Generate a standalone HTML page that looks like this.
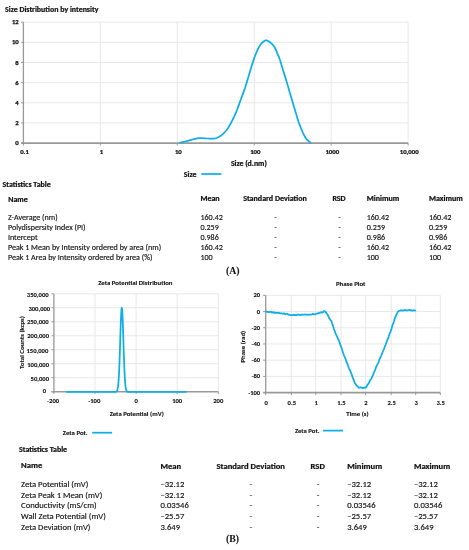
<!DOCTYPE html>
<html><head><meta charset="utf-8"><title>Size and Zeta Potential</title>
<style>
html,body{margin:0;padding:0;background:#fff;width:469px;height:550px;overflow:hidden;}
svg{display:block;filter:blur(0.3px);}
</style></head>
<body>
<svg width="469" height="550" viewBox="0 0 469 550" shape-rendering="auto">
<rect width="469" height="550" fill="#fff"/>
<text x="5.00" y="11.90" font-size="7.9" font-weight="700" text-anchor="start" fill="#111" stroke="#111" stroke-width="0.22" font-family='"Carlito","Liberation Sans",sans-serif'  textLength="93.44" lengthAdjust="spacingAndGlyphs">Size Distribution by intensity</text>
<line x1="23.40" y1="122.94" x2="408.10" y2="122.94" stroke="#e8e8e8" stroke-width="1"/>
<line x1="23.40" y1="102.78" x2="408.10" y2="102.78" stroke="#e8e8e8" stroke-width="1"/>
<line x1="23.40" y1="82.62" x2="408.10" y2="82.62" stroke="#e8e8e8" stroke-width="1"/>
<line x1="23.40" y1="62.46" x2="408.10" y2="62.46" stroke="#e8e8e8" stroke-width="1"/>
<line x1="23.40" y1="42.30" x2="408.10" y2="42.30" stroke="#e8e8e8" stroke-width="1"/>
<line x1="23.40" y1="22.14" x2="408.10" y2="22.14" stroke="#e8e8e8" stroke-width="1"/>
<line x1="100.34" y1="22.14" x2="100.34" y2="143.10" stroke="#e8e8e8" stroke-width="1"/>
<line x1="177.28" y1="22.14" x2="177.28" y2="143.10" stroke="#e8e8e8" stroke-width="1"/>
<line x1="254.22" y1="22.14" x2="254.22" y2="143.10" stroke="#e8e8e8" stroke-width="1"/>
<line x1="331.16" y1="22.14" x2="331.16" y2="143.10" stroke="#e8e8e8" stroke-width="1"/>
<line x1="408.10" y1="22.14" x2="408.10" y2="143.10" stroke="#e8e8e8" stroke-width="1"/>
<line x1="23.40" y1="22.14" x2="23.40" y2="143.60" stroke="#999999" stroke-width="1.3"/>
<line x1="21.00" y1="143.10" x2="408.10" y2="143.10" stroke="#999999" stroke-width="1.6"/>
<line x1="21.00" y1="143.10" x2="23.40" y2="143.10" stroke="#999999" stroke-width="1"/>
<line x1="21.00" y1="122.94" x2="23.40" y2="122.94" stroke="#999999" stroke-width="1"/>
<line x1="21.00" y1="102.78" x2="23.40" y2="102.78" stroke="#999999" stroke-width="1"/>
<line x1="21.00" y1="82.62" x2="23.40" y2="82.62" stroke="#999999" stroke-width="1"/>
<line x1="21.00" y1="62.46" x2="23.40" y2="62.46" stroke="#999999" stroke-width="1"/>
<line x1="21.00" y1="42.30" x2="23.40" y2="42.30" stroke="#999999" stroke-width="1"/>
<line x1="21.00" y1="22.14" x2="23.40" y2="22.14" stroke="#999999" stroke-width="1"/>
<line x1="23.40" y1="143.10" x2="23.40" y2="145.60" stroke="#999999" stroke-width="1"/>
<line x1="100.34" y1="143.10" x2="100.34" y2="145.60" stroke="#999999" stroke-width="1"/>
<line x1="177.28" y1="143.10" x2="177.28" y2="145.60" stroke="#999999" stroke-width="1"/>
<line x1="254.22" y1="143.10" x2="254.22" y2="145.60" stroke="#999999" stroke-width="1"/>
<line x1="331.16" y1="143.10" x2="331.16" y2="145.60" stroke="#999999" stroke-width="1"/>
<line x1="408.10" y1="143.10" x2="408.10" y2="145.60" stroke="#999999" stroke-width="1"/>
<text x="18.70" y="145.20" font-size="6.7" font-weight="700" text-anchor="end" fill="#111" stroke="#111" stroke-width="0.25" font-family='"Carlito","Liberation Sans",sans-serif'  textLength="3.39" lengthAdjust="spacingAndGlyphs">0</text>
<text x="18.70" y="125.04" font-size="6.7" font-weight="700" text-anchor="end" fill="#111" stroke="#111" stroke-width="0.25" font-family='"Carlito","Liberation Sans",sans-serif'  textLength="3.39" lengthAdjust="spacingAndGlyphs">2</text>
<text x="18.70" y="104.88" font-size="6.7" font-weight="700" text-anchor="end" fill="#111" stroke="#111" stroke-width="0.25" font-family='"Carlito","Liberation Sans",sans-serif'  textLength="3.39" lengthAdjust="spacingAndGlyphs">4</text>
<text x="18.70" y="84.72" font-size="6.7" font-weight="700" text-anchor="end" fill="#111" stroke="#111" stroke-width="0.25" font-family='"Carlito","Liberation Sans",sans-serif'  textLength="3.39" lengthAdjust="spacingAndGlyphs">6</text>
<text x="18.70" y="64.56" font-size="6.7" font-weight="700" text-anchor="end" fill="#111" stroke="#111" stroke-width="0.25" font-family='"Carlito","Liberation Sans",sans-serif'  textLength="3.39" lengthAdjust="spacingAndGlyphs">8</text>
<text x="18.70" y="44.40" font-size="6.7" font-weight="700" text-anchor="end" fill="#111" stroke="#111" stroke-width="0.25" font-family='"Carlito","Liberation Sans",sans-serif'  textLength="6.78" lengthAdjust="spacingAndGlyphs">10</text>
<text x="18.70" y="24.24" font-size="6.7" font-weight="700" text-anchor="end" fill="#111" stroke="#111" stroke-width="0.25" font-family='"Carlito","Liberation Sans",sans-serif'  textLength="6.78" lengthAdjust="spacingAndGlyphs">12</text>
<text x="24.50" y="154.40" font-size="6.75" font-weight="700" text-anchor="middle" fill="#111" stroke="#111" stroke-width="0.22" font-family='"Carlito","Liberation Sans",sans-serif'  textLength="8.66" lengthAdjust="spacingAndGlyphs">0.1</text>
<text x="101.44" y="154.40" font-size="6.75" font-weight="700" text-anchor="middle" fill="#111" stroke="#111" stroke-width="0.22" font-family='"Carlito","Liberation Sans",sans-serif'  textLength="3.42" lengthAdjust="spacingAndGlyphs">1</text>
<text x="178.38" y="154.40" font-size="6.75" font-weight="700" text-anchor="middle" fill="#111" stroke="#111" stroke-width="0.22" font-family='"Carlito","Liberation Sans",sans-serif'  textLength="6.84" lengthAdjust="spacingAndGlyphs">10</text>
<text x="255.32" y="154.40" font-size="6.75" font-weight="700" text-anchor="middle" fill="#111" stroke="#111" stroke-width="0.22" font-family='"Carlito","Liberation Sans",sans-serif'  textLength="10.27" lengthAdjust="spacingAndGlyphs">100</text>
<text x="332.26" y="154.40" font-size="6.75" font-weight="700" text-anchor="middle" fill="#111" stroke="#111" stroke-width="0.22" font-family='"Carlito","Liberation Sans",sans-serif'  textLength="13.69" lengthAdjust="spacingAndGlyphs">1000</text>
<text x="409.20" y="154.40" font-size="6.75" font-weight="700" text-anchor="middle" fill="#111" stroke="#111" stroke-width="0.22" font-family='"Carlito","Liberation Sans",sans-serif'  textLength="18.86" lengthAdjust="spacingAndGlyphs">10,000</text>
<text x="248.90" y="165.70" font-size="7.8" font-weight="700" text-anchor="middle" fill="#111" stroke="#111" stroke-width="0.22" font-family='"Carlito","Liberation Sans",sans-serif'  textLength="35.91" lengthAdjust="spacingAndGlyphs">Size (d.nm)</text>
<text x="183.80" y="176.80" font-size="7.9" font-weight="700" text-anchor="start" fill="#111" stroke="#111" stroke-width="0.22" font-family='"Carlito","Liberation Sans",sans-serif'  textLength="12.64" lengthAdjust="spacingAndGlyphs">Size</text>
<line x1="201.40" y1="174.00" x2="221.40" y2="174.00" stroke="#0eaee8" stroke-width="1.75"/>
<path d="M180.10,142.70 L180.97,142.50 L182.22,142.22 L183.68,141.88 L185.20,141.50 L186.80,141.06 L188.54,140.56 L190.34,140.06 L192.10,139.60 L193.81,139.18 L195.51,138.77 L197.20,138.43 L198.90,138.20 L200.60,138.14 L202.30,138.19 L204.00,138.31 L205.70,138.40 L207.44,138.50 L209.20,138.64 L210.91,138.73 L212.50,138.70 L213.91,138.56 L215.21,138.33 L216.44,137.99 L217.70,137.50 L218.98,136.86 L220.26,136.09 L221.53,135.18 L222.80,134.10 L224.08,132.88 L225.35,131.51 L226.63,129.97 L227.90,128.20 L229.20,126.13 L230.52,123.79 L231.80,121.36 L233.00,119.00 L234.08,116.78 L235.07,114.61 L236.03,112.39 L237.00,110.00 L238.00,107.39 L239.00,104.62 L240.00,101.80 L241.00,99.00 L242.00,96.30 L243.00,93.62 L244.00,90.89 L245.00,88.00 L246.02,84.82 L247.06,81.44 L248.07,78.09 L249.00,75.00 L249.82,72.27 L250.56,69.75 L251.27,67.36 L252.00,65.00 L252.75,62.63 L253.50,60.31 L254.25,58.09 L255.00,56.00 L255.75,54.06 L256.50,52.25 L257.25,50.56 L258.00,49.00 L258.73,47.57 L259.44,46.27 L260.18,45.09 L261.00,44.00 L261.95,42.95 L263.00,41.96 L264.05,41.15 L265.00,40.60 L265.80,40.37 L266.50,40.40 L267.20,40.63 L268.00,41.00 L268.95,41.54 L270.00,42.27 L271.05,43.12 L272.00,44.00 L272.82,44.86 L273.56,45.75 L274.27,46.77 L275.00,48.00 L275.77,49.59 L276.56,51.44 L277.32,53.32 L278.00,55.00 L278.56,56.33 L279.04,57.46 L279.50,58.61 L280.00,60.00 L280.55,61.73 L281.12,63.67 L281.71,65.70 L282.30,67.70 L282.90,69.65 L283.50,71.62 L284.10,73.58 L284.70,75.50 L285.28,77.36 L285.86,79.19 L286.43,81.02 L287.00,82.90 L287.57,84.86 L288.15,86.88 L288.73,88.91 L289.30,90.90 L289.88,92.84 L290.45,94.76 L291.03,96.68 L291.60,98.60 L292.18,100.55 L292.75,102.50 L293.32,104.45 L293.90,106.40 L294.47,108.33 L295.05,110.26 L295.62,112.18 L296.20,114.10 L296.77,116.06 L297.34,118.04 L297.92,119.98 L298.50,121.80 L299.10,123.47 L299.70,125.04 L300.30,126.54 L300.90,128.00 L301.46,129.41 L302.01,130.75 L302.57,132.07 L303.20,133.40 L303.90,134.79 L304.64,136.19 L305.44,137.56 L306.30,138.80 L307.35,139.97 L308.54,141.09 L309.64,142.03 L310.40,142.70" fill="none" stroke="#0eaee8" stroke-width="1.75" stroke-linejoin="round" stroke-linecap="round"/>
<text x="2.60" y="186.50" font-size="7.9" font-weight="700" text-anchor="start" fill="#111" stroke="#111" stroke-width="0.22" font-family='"Carlito","Liberation Sans",sans-serif'  textLength="48.09" lengthAdjust="spacingAndGlyphs">Statistics Table</text>
<text x="8.20" y="201.50" font-size="7.9" font-weight="700" text-anchor="start" fill="#111" stroke="#111" stroke-width="0.22" font-family='"Carlito","Liberation Sans",sans-serif'  textLength="19.48" lengthAdjust="spacingAndGlyphs">Name</text>
<text x="200.40" y="201.40" font-size="8" font-weight="700" text-anchor="start" fill="#111" stroke="#111" stroke-width="0.22" font-family='"Carlito","Liberation Sans",sans-serif'  textLength="19.27" lengthAdjust="spacingAndGlyphs">Mean</text>
<text x="275.00" y="201.40" font-size="8" font-weight="700" text-anchor="middle" fill="#111" stroke="#111" stroke-width="0.22" font-family='"Carlito","Liberation Sans",sans-serif'  textLength="63.75" lengthAdjust="spacingAndGlyphs">Standard Deviation</text>
<text x="339.00" y="201.40" font-size="8" font-weight="700" text-anchor="middle" fill="#111" stroke="#111" stroke-width="0.22" font-family='"Carlito","Liberation Sans",sans-serif'  textLength="13.25" lengthAdjust="spacingAndGlyphs">RSD</text>
<text x="366.70" y="201.40" font-size="8" font-weight="700" text-anchor="start" fill="#111" stroke="#111" stroke-width="0.22" font-family='"Carlito","Liberation Sans",sans-serif'  textLength="32.53" lengthAdjust="spacingAndGlyphs">Minimum</text>
<text x="428.90" y="201.40" font-size="8" font-weight="700" text-anchor="start" fill="#111" stroke="#111" stroke-width="0.22" font-family='"Carlito","Liberation Sans",sans-serif'  textLength="33.83" lengthAdjust="spacingAndGlyphs">Maximum</text>
<text x="7.90" y="219.50" font-size="8.05" font-weight="400" text-anchor="start" fill="#111" stroke="#111" stroke-width="0.15" font-family='"Carlito","Liberation Sans",sans-serif'  textLength="49.70" lengthAdjust="spacingAndGlyphs">Z-Average (nm)</text>
<text x="200.40" y="219.50" font-size="8.05" font-weight="400" text-anchor="start" fill="#111" stroke="#111" stroke-width="0.15" font-family='"Carlito","Liberation Sans",sans-serif'  textLength="22.44" lengthAdjust="spacingAndGlyphs">160.42</text>
<text x="275.50" y="219.50" font-size="8.05" font-weight="400" text-anchor="middle" fill="#111" stroke="#111" stroke-width="0.15" font-family='"Carlito","Liberation Sans",sans-serif'  textLength="2.47" lengthAdjust="spacingAndGlyphs">-</text>
<text x="339.50" y="219.50" font-size="8.05" font-weight="400" text-anchor="middle" fill="#111" stroke="#111" stroke-width="0.15" font-family='"Carlito","Liberation Sans",sans-serif'  textLength="2.47" lengthAdjust="spacingAndGlyphs">-</text>
<text x="366.70" y="219.50" font-size="8.05" font-weight="400" text-anchor="start" fill="#111" stroke="#111" stroke-width="0.15" font-family='"Carlito","Liberation Sans",sans-serif'  textLength="22.44" lengthAdjust="spacingAndGlyphs">160.42</text>
<text x="428.90" y="219.50" font-size="8.05" font-weight="400" text-anchor="start" fill="#111" stroke="#111" stroke-width="0.15" font-family='"Carlito","Liberation Sans",sans-serif'  textLength="22.44" lengthAdjust="spacingAndGlyphs">160.42</text>
<text x="7.90" y="229.55" font-size="8.05" font-weight="400" text-anchor="start" fill="#111" stroke="#111" stroke-width="0.15" font-family='"Carlito","Liberation Sans",sans-serif'  textLength="77.64" lengthAdjust="spacingAndGlyphs">Polydispersity Index (PI)</text>
<text x="200.40" y="229.55" font-size="8.05" font-weight="400" text-anchor="start" fill="#111" stroke="#111" stroke-width="0.15" font-family='"Carlito","Liberation Sans",sans-serif'  textLength="18.36" lengthAdjust="spacingAndGlyphs">0.259</text>
<text x="275.50" y="229.55" font-size="8.05" font-weight="400" text-anchor="middle" fill="#111" stroke="#111" stroke-width="0.15" font-family='"Carlito","Liberation Sans",sans-serif'  textLength="2.47" lengthAdjust="spacingAndGlyphs">-</text>
<text x="339.50" y="229.55" font-size="8.05" font-weight="400" text-anchor="middle" fill="#111" stroke="#111" stroke-width="0.15" font-family='"Carlito","Liberation Sans",sans-serif'  textLength="2.47" lengthAdjust="spacingAndGlyphs">-</text>
<text x="366.70" y="229.55" font-size="8.05" font-weight="400" text-anchor="start" fill="#111" stroke="#111" stroke-width="0.15" font-family='"Carlito","Liberation Sans",sans-serif'  textLength="18.36" lengthAdjust="spacingAndGlyphs">0.259</text>
<text x="428.90" y="229.55" font-size="8.05" font-weight="400" text-anchor="start" fill="#111" stroke="#111" stroke-width="0.15" font-family='"Carlito","Liberation Sans",sans-serif'  textLength="18.36" lengthAdjust="spacingAndGlyphs">0.259</text>
<text x="7.90" y="239.60" font-size="8.05" font-weight="400" text-anchor="start" fill="#111" stroke="#111" stroke-width="0.15" font-family='"Carlito","Liberation Sans",sans-serif'  textLength="29.78" lengthAdjust="spacingAndGlyphs">Intercept</text>
<text x="200.40" y="239.60" font-size="8.05" font-weight="400" text-anchor="start" fill="#111" stroke="#111" stroke-width="0.15" font-family='"Carlito","Liberation Sans",sans-serif'  textLength="18.36" lengthAdjust="spacingAndGlyphs">0.986</text>
<text x="275.50" y="239.60" font-size="8.05" font-weight="400" text-anchor="middle" fill="#111" stroke="#111" stroke-width="0.15" font-family='"Carlito","Liberation Sans",sans-serif'  textLength="2.47" lengthAdjust="spacingAndGlyphs">-</text>
<text x="339.50" y="239.60" font-size="8.05" font-weight="400" text-anchor="middle" fill="#111" stroke="#111" stroke-width="0.15" font-family='"Carlito","Liberation Sans",sans-serif'  textLength="2.47" lengthAdjust="spacingAndGlyphs">-</text>
<text x="366.70" y="239.60" font-size="8.05" font-weight="400" text-anchor="start" fill="#111" stroke="#111" stroke-width="0.15" font-family='"Carlito","Liberation Sans",sans-serif'  textLength="18.36" lengthAdjust="spacingAndGlyphs">0.986</text>
<text x="428.90" y="239.60" font-size="8.05" font-weight="400" text-anchor="start" fill="#111" stroke="#111" stroke-width="0.15" font-family='"Carlito","Liberation Sans",sans-serif'  textLength="18.36" lengthAdjust="spacingAndGlyphs">0.986</text>
<text x="7.90" y="249.65" font-size="8.05" font-weight="400" text-anchor="start" fill="#111" stroke="#111" stroke-width="0.15" font-family='"Carlito","Liberation Sans",sans-serif'  textLength="153.19" lengthAdjust="spacingAndGlyphs">Peak 1 Mean by Intensity ordered by area (nm)</text>
<text x="200.40" y="249.65" font-size="8.05" font-weight="400" text-anchor="start" fill="#111" stroke="#111" stroke-width="0.15" font-family='"Carlito","Liberation Sans",sans-serif'  textLength="22.44" lengthAdjust="spacingAndGlyphs">160.42</text>
<text x="275.50" y="249.65" font-size="8.05" font-weight="400" text-anchor="middle" fill="#111" stroke="#111" stroke-width="0.15" font-family='"Carlito","Liberation Sans",sans-serif'  textLength="2.47" lengthAdjust="spacingAndGlyphs">-</text>
<text x="339.50" y="249.65" font-size="8.05" font-weight="400" text-anchor="middle" fill="#111" stroke="#111" stroke-width="0.15" font-family='"Carlito","Liberation Sans",sans-serif'  textLength="2.47" lengthAdjust="spacingAndGlyphs">-</text>
<text x="366.70" y="249.65" font-size="8.05" font-weight="400" text-anchor="start" fill="#111" stroke="#111" stroke-width="0.15" font-family='"Carlito","Liberation Sans",sans-serif'  textLength="22.44" lengthAdjust="spacingAndGlyphs">160.42</text>
<text x="428.90" y="249.65" font-size="8.05" font-weight="400" text-anchor="start" fill="#111" stroke="#111" stroke-width="0.15" font-family='"Carlito","Liberation Sans",sans-serif'  textLength="22.44" lengthAdjust="spacingAndGlyphs">160.42</text>
<text x="7.90" y="259.70" font-size="8.05" font-weight="400" text-anchor="start" fill="#111" stroke="#111" stroke-width="0.15" font-family='"Carlito","Liberation Sans",sans-serif'  textLength="144.53" lengthAdjust="spacingAndGlyphs">Peak 1 Area by Intensity ordered by area (%)</text>
<text x="200.40" y="259.70" font-size="8.05" font-weight="400" text-anchor="start" fill="#111" stroke="#111" stroke-width="0.15" font-family='"Carlito","Liberation Sans",sans-serif'  textLength="12.25" lengthAdjust="spacingAndGlyphs">100</text>
<text x="275.50" y="259.70" font-size="8.05" font-weight="400" text-anchor="middle" fill="#111" stroke="#111" stroke-width="0.15" font-family='"Carlito","Liberation Sans",sans-serif'  textLength="2.47" lengthAdjust="spacingAndGlyphs">-</text>
<text x="339.50" y="259.70" font-size="8.05" font-weight="400" text-anchor="middle" fill="#111" stroke="#111" stroke-width="0.15" font-family='"Carlito","Liberation Sans",sans-serif'  textLength="2.47" lengthAdjust="spacingAndGlyphs">-</text>
<text x="366.70" y="259.70" font-size="8.05" font-weight="400" text-anchor="start" fill="#111" stroke="#111" stroke-width="0.15" font-family='"Carlito","Liberation Sans",sans-serif'  textLength="12.25" lengthAdjust="spacingAndGlyphs">100</text>
<text x="428.90" y="259.70" font-size="8.05" font-weight="400" text-anchor="start" fill="#111" stroke="#111" stroke-width="0.15" font-family='"Carlito","Liberation Sans",sans-serif'  textLength="12.25" lengthAdjust="spacingAndGlyphs">100</text>
<text x="232.70" y="274.20" font-size="9.8" font-weight="700" text-anchor="middle" fill="#111" stroke="#111" stroke-width="0.05" font-family='"Liberation Serif","Times New Roman",serif'  textLength="13.61" lengthAdjust="spacingAndGlyphs">(A)</text>
<text x="135.30" y="284.80" font-size="6.8" font-weight="700" text-anchor="middle" fill="#111" stroke="#111" stroke-width="0.1" font-family='"Carlito","Liberation Sans",sans-serif'  textLength="74.30" lengthAdjust="spacingAndGlyphs">Zeta Potential Distribution</text>
<line x1="53.90" y1="377.71" x2="218.30" y2="377.71" stroke="#e8e8e8" stroke-width="1"/>
<line x1="53.90" y1="363.73" x2="218.30" y2="363.73" stroke="#e8e8e8" stroke-width="1"/>
<line x1="53.90" y1="349.74" x2="218.30" y2="349.74" stroke="#e8e8e8" stroke-width="1"/>
<line x1="53.90" y1="335.76" x2="218.30" y2="335.76" stroke="#e8e8e8" stroke-width="1"/>
<line x1="53.90" y1="321.77" x2="218.30" y2="321.77" stroke="#e8e8e8" stroke-width="1"/>
<line x1="53.90" y1="307.79" x2="218.30" y2="307.79" stroke="#e8e8e8" stroke-width="1"/>
<line x1="53.90" y1="293.80" x2="218.30" y2="293.80" stroke="#e8e8e8" stroke-width="1"/>
<line x1="95.00" y1="293.80" x2="95.00" y2="391.70" stroke="#e8e8e8" stroke-width="1"/>
<line x1="136.10" y1="293.80" x2="136.10" y2="391.70" stroke="#e8e8e8" stroke-width="1"/>
<line x1="177.20" y1="293.80" x2="177.20" y2="391.70" stroke="#e8e8e8" stroke-width="1"/>
<line x1="218.30" y1="293.80" x2="218.30" y2="391.70" stroke="#e8e8e8" stroke-width="1"/>
<line x1="53.90" y1="293.80" x2="53.90" y2="392.20" stroke="#999999" stroke-width="1.3"/>
<line x1="51.50" y1="391.70" x2="218.30" y2="391.70" stroke="#999999" stroke-width="1.6"/>
<line x1="51.50" y1="391.70" x2="53.90" y2="391.70" stroke="#999999" stroke-width="1"/>
<text x="46.00" y="393.20" font-size="6.6" font-weight="700" text-anchor="end" fill="#111" stroke="#111" stroke-width="0.1" font-family='"Carlito","Liberation Sans",sans-serif'  textLength="3.34" lengthAdjust="spacingAndGlyphs">0</text>
<line x1="51.50" y1="377.71" x2="53.90" y2="377.71" stroke="#999999" stroke-width="1"/>
<text x="49.00" y="381.01" font-size="6.6" font-weight="700" text-anchor="end" fill="#111" stroke="#111" stroke-width="0.1" font-family='"Carlito","Liberation Sans",sans-serif'  textLength="18.42" lengthAdjust="spacingAndGlyphs">50,000</text>
<line x1="51.50" y1="363.73" x2="53.90" y2="363.73" stroke="#999999" stroke-width="1"/>
<text x="49.00" y="366.63" font-size="6.6" font-weight="700" text-anchor="end" fill="#111" stroke="#111" stroke-width="0.1" font-family='"Carlito","Liberation Sans",sans-serif'  textLength="21.77" lengthAdjust="spacingAndGlyphs">100,000</text>
<line x1="51.50" y1="349.74" x2="53.90" y2="349.74" stroke="#999999" stroke-width="1"/>
<text x="48.30" y="352.54" font-size="6.6" font-weight="700" text-anchor="end" fill="#111" stroke="#111" stroke-width="0.1" font-family='"Carlito","Liberation Sans",sans-serif'  textLength="21.77" lengthAdjust="spacingAndGlyphs">150,000</text>
<line x1="51.50" y1="335.76" x2="53.90" y2="335.76" stroke="#999999" stroke-width="1"/>
<text x="49.00" y="338.16" font-size="6.6" font-weight="700" text-anchor="end" fill="#111" stroke="#111" stroke-width="0.1" font-family='"Carlito","Liberation Sans",sans-serif'  textLength="21.77" lengthAdjust="spacingAndGlyphs">200,000</text>
<line x1="51.50" y1="321.77" x2="53.90" y2="321.77" stroke="#999999" stroke-width="1"/>
<text x="48.70" y="323.87" font-size="6.6" font-weight="700" text-anchor="end" fill="#111" stroke="#111" stroke-width="0.1" font-family='"Carlito","Liberation Sans",sans-serif'  textLength="21.77" lengthAdjust="spacingAndGlyphs">250,000</text>
<line x1="51.50" y1="307.79" x2="53.90" y2="307.79" stroke="#999999" stroke-width="1"/>
<text x="50.20" y="310.89" font-size="6.6" font-weight="700" text-anchor="end" fill="#111" stroke="#111" stroke-width="0.1" font-family='"Carlito","Liberation Sans",sans-serif'  textLength="21.77" lengthAdjust="spacingAndGlyphs">300,000</text>
<line x1="51.50" y1="293.80" x2="53.90" y2="293.80" stroke="#999999" stroke-width="1"/>
<text x="48.60" y="296.60" font-size="6.6" font-weight="700" text-anchor="end" fill="#111" stroke="#111" stroke-width="0.1" font-family='"Carlito","Liberation Sans",sans-serif'  textLength="21.77" lengthAdjust="spacingAndGlyphs">350,000</text>
<line x1="53.90" y1="391.70" x2="53.90" y2="394.20" stroke="#999999" stroke-width="1"/>
<text x="53.10" y="403.10" font-size="6.6" font-weight="700" text-anchor="middle" fill="#111" stroke="#111" stroke-width="0.1" font-family='"Carlito","Liberation Sans",sans-serif'  textLength="12.05" lengthAdjust="spacingAndGlyphs">-200</text>
<line x1="95.00" y1="391.70" x2="95.00" y2="394.20" stroke="#999999" stroke-width="1"/>
<text x="94.20" y="403.10" font-size="6.6" font-weight="700" text-anchor="middle" fill="#111" stroke="#111" stroke-width="0.1" font-family='"Carlito","Liberation Sans",sans-serif'  textLength="12.05" lengthAdjust="spacingAndGlyphs">-100</text>
<line x1="136.10" y1="391.70" x2="136.10" y2="394.20" stroke="#999999" stroke-width="1"/>
<text x="136.10" y="403.10" font-size="6.6" font-weight="700" text-anchor="middle" fill="#111" stroke="#111" stroke-width="0.1" font-family='"Carlito","Liberation Sans",sans-serif'  textLength="3.34" lengthAdjust="spacingAndGlyphs">0</text>
<line x1="177.20" y1="391.70" x2="177.20" y2="394.20" stroke="#999999" stroke-width="1"/>
<text x="177.20" y="403.10" font-size="6.6" font-weight="700" text-anchor="middle" fill="#111" stroke="#111" stroke-width="0.1" font-family='"Carlito","Liberation Sans",sans-serif'  textLength="10.03" lengthAdjust="spacingAndGlyphs">100</text>
<line x1="218.30" y1="391.70" x2="218.30" y2="394.20" stroke="#999999" stroke-width="1"/>
<text x="218.30" y="403.10" font-size="6.6" font-weight="700" text-anchor="middle" fill="#111" stroke="#111" stroke-width="0.1" font-family='"Carlito","Liberation Sans",sans-serif'  textLength="10.03" lengthAdjust="spacingAndGlyphs">200</text>
<text x="136.70" y="415.70" font-size="6.75" font-weight="700" text-anchor="middle" fill="#111" stroke="#111" stroke-width="0.1" font-family='"Carlito","Liberation Sans",sans-serif'  textLength="54.09" lengthAdjust="spacingAndGlyphs">Zeta Potential (mV)</text>
<text x="23.50" y="342.50" font-size="6.8" font-weight="700" text-anchor="middle" fill="#111" stroke="#111" stroke-width="0.1" font-family='"Carlito","Liberation Sans",sans-serif' transform="rotate(-90 23.5 342.5)" textLength="52.89" lengthAdjust="spacingAndGlyphs">Total Counts (kcps)</text>
<text x="62.80" y="434.60" font-size="6.75" font-weight="700" text-anchor="start" fill="#111" stroke="#111" stroke-width="0.1" font-family='"Carlito","Liberation Sans",sans-serif'  textLength="24.88" lengthAdjust="spacingAndGlyphs">Zeta Pot.</text>
<line x1="92.20" y1="432.70" x2="112.10" y2="432.70" stroke="#0eaee8" stroke-width="1.75"/>
<path d="M67.00,391.90 L69.00,391.90 L71.00,391.90 L73.00,391.90 L75.00,391.90 L77.00,391.90 L79.00,391.90 L81.00,391.90 L83.00,391.90 L85.00,391.90 L87.00,391.90 L89.00,391.90 L91.00,391.90 L93.00,391.90 L95.00,391.90 L97.00,391.90 L99.00,391.90 L101.00,391.90 L103.00,391.90 L105.00,391.90 L107.00,391.90 L109.00,391.90 L111.00,391.90 L113.00,391.90 L115.00,391.89 L115.25,391.88 L115.50,391.86 L115.75,391.83 L116.00,391.78 L116.25,391.69 L116.50,391.55 L116.75,391.32 L117.00,390.96 L117.25,390.42 L117.50,389.63 L117.75,388.48 L118.00,386.88 L118.25,384.72 L118.50,381.86 L118.75,378.21 L119.00,373.69 L119.25,368.25 L119.50,361.94 L119.75,354.85 L120.00,347.18 L120.25,339.23 L120.50,331.37 L120.75,324.01 L121.00,317.59 L121.25,312.53 L121.50,309.17 L121.75,307.74 L122.00,308.36 L122.25,310.97 L122.50,315.38 L122.75,321.31 L123.00,328.34 L123.25,336.06 L123.50,344.02 L123.75,351.83 L124.00,359.18 L124.25,365.83 L124.50,371.63 L124.75,376.51 L125.00,380.50 L125.25,383.66 L125.50,386.09 L125.75,387.90 L126.00,389.21 L126.25,390.14 L126.50,390.77 L126.75,391.20 L127.00,391.47 L127.25,391.65 L127.50,391.75 L127.75,391.82 L128.00,391.85 L128.25,391.88 L128.50,391.89 L128.75,391.89 L129.00,391.90 L129.25,391.90 L129.50,391.90 L129.75,391.90 L130.00,391.90 L132.00,391.90 L134.00,391.90 L136.00,391.90 L138.00,391.90 L140.00,391.90 L142.00,391.90 L144.00,391.90 L146.00,391.90 L148.00,391.90 L150.00,391.90 L152.00,391.90 L154.00,391.90 L156.00,391.90 L158.00,391.90 L160.00,391.90 L162.00,391.90 L164.00,391.90 L166.00,391.90 L168.00,391.90 L170.00,391.90 L172.00,391.90 L174.00,391.90 L176.00,391.90 L178.00,391.90 L180.00,391.90 L182.00,391.90 L184.00,391.90 L186.00,391.90" fill="none" stroke="#0eaee8" stroke-width="1.75" stroke-linejoin="round" stroke-linecap="round"/>
<text x="350.70" y="285.90" font-size="6.8" font-weight="700" text-anchor="middle" fill="#111" stroke="#111" stroke-width="0.1" font-family='"Carlito","Liberation Sans",sans-serif'  textLength="29.59" lengthAdjust="spacingAndGlyphs">Phase Plot</text>
<line x1="265.70" y1="295.34" x2="440.30" y2="295.34" stroke="#e8e8e8" stroke-width="1"/>
<line x1="265.70" y1="311.55" x2="440.30" y2="311.55" stroke="#e8e8e8" stroke-width="1"/>
<line x1="265.70" y1="327.76" x2="440.30" y2="327.76" stroke="#e8e8e8" stroke-width="1"/>
<line x1="265.70" y1="343.97" x2="440.30" y2="343.97" stroke="#e8e8e8" stroke-width="1"/>
<line x1="265.70" y1="360.18" x2="440.30" y2="360.18" stroke="#e8e8e8" stroke-width="1"/>
<line x1="265.70" y1="376.39" x2="440.30" y2="376.39" stroke="#e8e8e8" stroke-width="1"/>
<line x1="291.40" y1="295.34" x2="291.40" y2="392.60" stroke="#e8e8e8" stroke-width="1"/>
<line x1="315.80" y1="295.34" x2="315.80" y2="392.60" stroke="#e8e8e8" stroke-width="1"/>
<line x1="341.00" y1="295.34" x2="341.00" y2="392.60" stroke="#e8e8e8" stroke-width="1"/>
<line x1="365.60" y1="295.34" x2="365.60" y2="392.60" stroke="#e8e8e8" stroke-width="1"/>
<line x1="391.20" y1="295.34" x2="391.20" y2="392.60" stroke="#e8e8e8" stroke-width="1"/>
<line x1="415.70" y1="295.34" x2="415.70" y2="392.60" stroke="#e8e8e8" stroke-width="1"/>
<line x1="440.30" y1="295.34" x2="440.30" y2="392.60" stroke="#e8e8e8" stroke-width="1"/>
<line x1="265.70" y1="295.34" x2="265.70" y2="393.10" stroke="#999999" stroke-width="1.3"/>
<line x1="263.30" y1="392.60" x2="440.30" y2="392.60" stroke="#999999" stroke-width="1.6"/>
<line x1="263.10" y1="392.60" x2="265.70" y2="392.60" stroke="#999999" stroke-width="1"/>
<text x="260.20" y="394.70" font-size="6.6" font-weight="700" text-anchor="end" fill="#111" stroke="#111" stroke-width="0.1" font-family='"Carlito","Liberation Sans",sans-serif'  textLength="12.05" lengthAdjust="spacingAndGlyphs">-100</text>
<line x1="263.10" y1="376.39" x2="265.70" y2="376.39" stroke="#999999" stroke-width="1"/>
<text x="260.20" y="378.49" font-size="6.6" font-weight="700" text-anchor="end" fill="#111" stroke="#111" stroke-width="0.1" font-family='"Carlito","Liberation Sans",sans-serif'  textLength="8.70" lengthAdjust="spacingAndGlyphs">-80</text>
<line x1="263.10" y1="360.18" x2="265.70" y2="360.18" stroke="#999999" stroke-width="1"/>
<text x="260.20" y="362.28" font-size="6.6" font-weight="700" text-anchor="end" fill="#111" stroke="#111" stroke-width="0.1" font-family='"Carlito","Liberation Sans",sans-serif'  textLength="8.70" lengthAdjust="spacingAndGlyphs">-60</text>
<line x1="263.10" y1="343.97" x2="265.70" y2="343.97" stroke="#999999" stroke-width="1"/>
<text x="260.20" y="346.07" font-size="6.6" font-weight="700" text-anchor="end" fill="#111" stroke="#111" stroke-width="0.1" font-family='"Carlito","Liberation Sans",sans-serif'  textLength="8.70" lengthAdjust="spacingAndGlyphs">-40</text>
<line x1="263.10" y1="327.76" x2="265.70" y2="327.76" stroke="#999999" stroke-width="1"/>
<text x="260.20" y="329.86" font-size="6.6" font-weight="700" text-anchor="end" fill="#111" stroke="#111" stroke-width="0.1" font-family='"Carlito","Liberation Sans",sans-serif'  textLength="8.70" lengthAdjust="spacingAndGlyphs">-20</text>
<line x1="263.10" y1="311.55" x2="265.70" y2="311.55" stroke="#999999" stroke-width="1"/>
<text x="260.20" y="313.65" font-size="6.6" font-weight="700" text-anchor="end" fill="#111" stroke="#111" stroke-width="0.1" font-family='"Carlito","Liberation Sans",sans-serif'  textLength="3.34" lengthAdjust="spacingAndGlyphs">0</text>
<line x1="263.10" y1="295.34" x2="265.70" y2="295.34" stroke="#999999" stroke-width="1"/>
<text x="260.20" y="297.44" font-size="6.6" font-weight="700" text-anchor="end" fill="#111" stroke="#111" stroke-width="0.1" font-family='"Carlito","Liberation Sans",sans-serif'  textLength="6.69" lengthAdjust="spacingAndGlyphs">20</text>
<line x1="265.70" y1="392.60" x2="265.70" y2="395.10" stroke="#999999" stroke-width="1"/>
<text x="266.10" y="404.90" font-size="6.6" font-weight="700" text-anchor="middle" fill="#111" stroke="#111" stroke-width="0.1" font-family='"Carlito","Liberation Sans",sans-serif'  textLength="3.34" lengthAdjust="spacingAndGlyphs">0</text>
<line x1="291.40" y1="392.60" x2="291.40" y2="395.10" stroke="#999999" stroke-width="1"/>
<text x="291.80" y="404.90" font-size="6.6" font-weight="700" text-anchor="middle" fill="#111" stroke="#111" stroke-width="0.1" font-family='"Carlito","Liberation Sans",sans-serif'  textLength="8.45" lengthAdjust="spacingAndGlyphs">0.5</text>
<line x1="315.80" y1="392.60" x2="315.80" y2="395.10" stroke="#999999" stroke-width="1"/>
<text x="316.20" y="404.90" font-size="6.6" font-weight="700" text-anchor="middle" fill="#111" stroke="#111" stroke-width="0.1" font-family='"Carlito","Liberation Sans",sans-serif'  textLength="3.34" lengthAdjust="spacingAndGlyphs">1</text>
<line x1="341.00" y1="392.60" x2="341.00" y2="395.10" stroke="#999999" stroke-width="1"/>
<text x="341.40" y="404.90" font-size="6.6" font-weight="700" text-anchor="middle" fill="#111" stroke="#111" stroke-width="0.1" font-family='"Carlito","Liberation Sans",sans-serif'  textLength="8.45" lengthAdjust="spacingAndGlyphs">1.5</text>
<line x1="365.60" y1="392.60" x2="365.60" y2="395.10" stroke="#999999" stroke-width="1"/>
<text x="366.00" y="404.90" font-size="6.6" font-weight="700" text-anchor="middle" fill="#111" stroke="#111" stroke-width="0.1" font-family='"Carlito","Liberation Sans",sans-serif'  textLength="3.34" lengthAdjust="spacingAndGlyphs">2</text>
<line x1="391.20" y1="392.60" x2="391.20" y2="395.10" stroke="#999999" stroke-width="1"/>
<text x="391.60" y="404.90" font-size="6.6" font-weight="700" text-anchor="middle" fill="#111" stroke="#111" stroke-width="0.1" font-family='"Carlito","Liberation Sans",sans-serif'  textLength="8.45" lengthAdjust="spacingAndGlyphs">2.5</text>
<line x1="415.70" y1="392.60" x2="415.70" y2="395.10" stroke="#999999" stroke-width="1"/>
<text x="416.10" y="404.90" font-size="6.6" font-weight="700" text-anchor="middle" fill="#111" stroke="#111" stroke-width="0.1" font-family='"Carlito","Liberation Sans",sans-serif'  textLength="3.34" lengthAdjust="spacingAndGlyphs">3</text>
<line x1="440.30" y1="392.60" x2="440.30" y2="395.10" stroke="#999999" stroke-width="1"/>
<text x="440.70" y="404.90" font-size="6.6" font-weight="700" text-anchor="middle" fill="#111" stroke="#111" stroke-width="0.1" font-family='"Carlito","Liberation Sans",sans-serif'  textLength="8.45" lengthAdjust="spacingAndGlyphs">3.5</text>
<text x="357.50" y="416.10" font-size="6.75" font-weight="700" text-anchor="middle" fill="#111" stroke="#111" stroke-width="0.1" font-family='"Carlito","Liberation Sans",sans-serif'  textLength="22.33" lengthAdjust="spacingAndGlyphs">Time (s)</text>
<text x="245.30" y="346.70" font-size="6.8" font-weight="700" text-anchor="middle" fill="#111" stroke="#111" stroke-width="0.1" font-family='"Carlito","Liberation Sans",sans-serif' transform="rotate(-90 245.3 346.7)" textLength="31.80" lengthAdjust="spacingAndGlyphs">Phase (rad)</text>
<text x="294.90" y="432.80" font-size="6.7" font-weight="700" text-anchor="start" fill="#111" stroke="#111" stroke-width="0.1" font-family='"Carlito","Liberation Sans",sans-serif'  textLength="24.64" lengthAdjust="spacingAndGlyphs">Zeta Pot.</text>
<line x1="323.10" y1="430.60" x2="343.10" y2="430.60" stroke="#0eaee8" stroke-width="1.75"/>
<path d="M266.00,311.46 L266.85,311.83 L267.70,311.76 L268.55,312.06 L269.40,312.16 L270.25,311.75 L271.10,311.79 L271.95,312.62 L272.80,312.18 L273.65,312.24 L274.50,313.01 L275.35,312.61 L276.20,313.02 L277.05,312.78 L277.90,313.01 L278.75,312.65 L279.60,313.16 L280.45,313.45 L281.30,313.22 L282.17,313.57 L283.05,313.66 L283.92,313.27 L284.79,314.05 L285.66,314.05 L286.54,313.95 L287.41,313.86 L288.28,314.77 L289.15,314.57 L290.03,314.94 L290.90,315.24 L291.73,315.09 L292.57,315.28 L293.40,314.81 L294.23,315.17 L295.07,314.85 L295.90,315.29 L296.73,315.24 L297.57,314.54 L298.40,314.57 L299.25,314.61 L300.10,315.24 L300.95,314.72 L301.80,314.85 L302.65,314.52 L303.50,314.67 L304.35,314.52 L305.20,314.45 L306.05,314.62 L306.90,314.58 L307.75,314.80 L308.60,314.54 L309.45,314.71 L310.30,314.58 L311.15,314.64 L312.00,314.29 L312.85,313.78 L313.70,314.34 L314.55,314.38 L315.40,314.26 L316.20,313.77 L317.00,313.72 L317.80,313.08 L318.60,313.45 L319.40,313.03 L320.20,312.58 L321.00,312.19 L321.80,312.72 L322.87,312.41 L323.93,311.16 L325.00,311.37 L326.07,312.65 L327.13,314.05 L328.20,315.81 L329.27,318.01 L330.33,319.87 L331.40,320.89 L332.20,323.80 L333.00,325.69 L333.80,328.70 L334.60,330.75 L335.46,333.16 L336.32,335.17 L337.18,336.66 L338.04,339.03 L338.90,340.33 L339.76,342.68 L340.62,345.71 L341.48,347.76 L342.34,350.47 L343.20,353.22 L344.04,355.54 L344.88,357.27 L345.72,359.31 L346.56,362.19 L347.40,363.83 L348.26,366.53 L349.12,368.60 L349.98,370.25 L350.84,372.44 L351.70,374.62 L352.77,377.60 L353.83,380.42 L354.90,383.25 L355.82,384.41 L356.75,385.80 L357.68,386.51 L358.60,387.54 L359.50,387.82 L360.40,387.41 L361.30,387.50 L362.20,388.13 L363.10,387.74 L364.00,387.79 L364.90,387.34 L365.80,387.72 L366.63,386.54 L367.47,384.70 L368.30,383.90 L369.27,382.29 L370.23,380.14 L371.20,379.01 L372.00,377.01 L372.80,375.34 L373.60,373.18 L374.40,371.64 L375.20,369.80 L376.00,367.29 L376.80,365.47 L377.60,364.16 L378.51,362.27 L379.43,359.49 L380.34,357.53 L381.26,355.51 L382.17,353.12 L383.09,351.02 L384.00,348.83 L384.91,346.45 L385.83,344.23 L386.74,341.53 L387.66,339.18 L388.57,337.10 L389.49,334.00 L390.40,332.06 L391.24,329.65 L392.08,326.71 L392.92,324.07 L393.76,322.03 L394.60,318.96 L395.67,316.42 L396.73,314.14 L397.80,311.88 L398.87,310.91 L399.93,310.67 L401.00,310.25 L401.92,310.67 L402.83,310.28 L403.75,310.62 L404.67,309.97 L405.58,310.09 L406.50,310.34 L407.31,310.57 L408.12,310.21 L408.93,310.03 L409.74,309.97 L410.55,310.36 L411.35,310.09 L412.16,310.67 L412.97,310.72 L413.78,310.16 L414.59,310.27 L415.40,310.50" fill="none" stroke="#0eaee8" stroke-width="1.75" stroke-linejoin="round" stroke-linecap="round"/>
<text x="19.00" y="451.70" font-size="7.9" font-weight="700" text-anchor="start" fill="#111" stroke="#111" stroke-width="0.22" font-family='"Carlito","Liberation Sans",sans-serif'  textLength="48.09" lengthAdjust="spacingAndGlyphs">Statistics Table</text>
<text x="21.10" y="468.10" font-size="8.6" font-weight="700" text-anchor="start" fill="#111" stroke="#111" stroke-width="0.22" font-family='"Carlito","Liberation Sans",sans-serif'  textLength="21.23" lengthAdjust="spacingAndGlyphs">Name</text>
<text x="160.40" y="468.60" font-size="8.6" font-weight="700" text-anchor="start" fill="#111" stroke="#111" stroke-width="0.22" font-family='"Carlito","Liberation Sans",sans-serif'  textLength="20.70" lengthAdjust="spacingAndGlyphs">Mean</text>
<text x="250.70" y="468.60" font-size="8.6" font-weight="700" text-anchor="middle" fill="#111" stroke="#111" stroke-width="0.22" font-family='"Carlito","Liberation Sans",sans-serif'  textLength="68.48" lengthAdjust="spacingAndGlyphs">Standard Deviation</text>
<text x="317.70" y="468.60" font-size="8.6" font-weight="700" text-anchor="middle" fill="#111" stroke="#111" stroke-width="0.22" font-family='"Carlito","Liberation Sans",sans-serif'  textLength="14.23" lengthAdjust="spacingAndGlyphs">RSD</text>
<text x="347.20" y="468.60" font-size="8.6" font-weight="700" text-anchor="start" fill="#111" stroke="#111" stroke-width="0.22" font-family='"Carlito","Liberation Sans",sans-serif'  textLength="34.94" lengthAdjust="spacingAndGlyphs">Minimum</text>
<text x="413.90" y="468.60" font-size="8.6" font-weight="700" text-anchor="start" fill="#111" stroke="#111" stroke-width="0.22" font-family='"Carlito","Liberation Sans",sans-serif'  textLength="36.33" lengthAdjust="spacingAndGlyphs">Maximum</text>
<text x="21.10" y="487.10" font-size="8.65" font-weight="400" text-anchor="start" fill="#111" stroke="#111" stroke-width="0.15" font-family='"Carlito","Liberation Sans",sans-serif'  textLength="67.28" lengthAdjust="spacingAndGlyphs">Zeta Potential (mV)</text>
<text x="160.40" y="487.10" font-size="8.65" font-weight="400" text-anchor="start" fill="#111" stroke="#111" stroke-width="0.15" font-family='"Carlito","Liberation Sans",sans-serif'  textLength="23.97" lengthAdjust="spacingAndGlyphs">–32.12</text>
<text x="250.70" y="487.10" font-size="8.65" font-weight="400" text-anchor="middle" fill="#111" stroke="#111" stroke-width="0.15" font-family='"Carlito","Liberation Sans",sans-serif'  textLength="2.64" lengthAdjust="spacingAndGlyphs">-</text>
<text x="318.10" y="487.10" font-size="8.65" font-weight="400" text-anchor="middle" fill="#111" stroke="#111" stroke-width="0.15" font-family='"Carlito","Liberation Sans",sans-serif'  textLength="2.64" lengthAdjust="spacingAndGlyphs">-</text>
<text x="347.20" y="487.10" font-size="8.65" font-weight="400" text-anchor="start" fill="#111" stroke="#111" stroke-width="0.15" font-family='"Carlito","Liberation Sans",sans-serif'  textLength="23.97" lengthAdjust="spacingAndGlyphs">–32.12</text>
<text x="413.90" y="487.10" font-size="8.65" font-weight="400" text-anchor="start" fill="#111" stroke="#111" stroke-width="0.15" font-family='"Carlito","Liberation Sans",sans-serif'  textLength="23.97" lengthAdjust="spacingAndGlyphs">–32.12</text>
<text x="21.10" y="497.75" font-size="8.65" font-weight="400" text-anchor="start" fill="#111" stroke="#111" stroke-width="0.15" font-family='"Carlito","Liberation Sans",sans-serif'  textLength="81.22" lengthAdjust="spacingAndGlyphs">Zeta Peak 1 Mean (mV)</text>
<text x="160.40" y="497.75" font-size="8.65" font-weight="400" text-anchor="start" fill="#111" stroke="#111" stroke-width="0.15" font-family='"Carlito","Liberation Sans",sans-serif'  textLength="23.97" lengthAdjust="spacingAndGlyphs">–32.12</text>
<text x="250.70" y="497.75" font-size="8.65" font-weight="400" text-anchor="middle" fill="#111" stroke="#111" stroke-width="0.15" font-family='"Carlito","Liberation Sans",sans-serif'  textLength="2.64" lengthAdjust="spacingAndGlyphs">-</text>
<text x="318.10" y="497.75" font-size="8.65" font-weight="400" text-anchor="middle" fill="#111" stroke="#111" stroke-width="0.15" font-family='"Carlito","Liberation Sans",sans-serif'  textLength="2.64" lengthAdjust="spacingAndGlyphs">-</text>
<text x="347.20" y="497.75" font-size="8.65" font-weight="400" text-anchor="start" fill="#111" stroke="#111" stroke-width="0.15" font-family='"Carlito","Liberation Sans",sans-serif'  textLength="23.97" lengthAdjust="spacingAndGlyphs">–32.12</text>
<text x="413.90" y="497.75" font-size="8.65" font-weight="400" text-anchor="start" fill="#111" stroke="#111" stroke-width="0.15" font-family='"Carlito","Liberation Sans",sans-serif'  textLength="23.97" lengthAdjust="spacingAndGlyphs">–32.12</text>
<text x="21.10" y="508.40" font-size="8.65" font-weight="400" text-anchor="start" fill="#111" stroke="#111" stroke-width="0.15" font-family='"Carlito","Liberation Sans",sans-serif'  textLength="75.61" lengthAdjust="spacingAndGlyphs">Conductivity (mS/cm)</text>
<text x="160.40" y="508.40" font-size="8.65" font-weight="400" text-anchor="start" fill="#111" stroke="#111" stroke-width="0.15" font-family='"Carlito","Liberation Sans",sans-serif'  textLength="28.41" lengthAdjust="spacingAndGlyphs">0.03546</text>
<text x="250.70" y="508.40" font-size="8.65" font-weight="400" text-anchor="middle" fill="#111" stroke="#111" stroke-width="0.15" font-family='"Carlito","Liberation Sans",sans-serif'  textLength="2.64" lengthAdjust="spacingAndGlyphs">-</text>
<text x="318.10" y="508.40" font-size="8.65" font-weight="400" text-anchor="middle" fill="#111" stroke="#111" stroke-width="0.15" font-family='"Carlito","Liberation Sans",sans-serif'  textLength="2.64" lengthAdjust="spacingAndGlyphs">-</text>
<text x="347.20" y="508.40" font-size="8.65" font-weight="400" text-anchor="start" fill="#111" stroke="#111" stroke-width="0.15" font-family='"Carlito","Liberation Sans",sans-serif'  textLength="28.41" lengthAdjust="spacingAndGlyphs">0.03546</text>
<text x="413.90" y="508.40" font-size="8.65" font-weight="400" text-anchor="start" fill="#111" stroke="#111" stroke-width="0.15" font-family='"Carlito","Liberation Sans",sans-serif'  textLength="28.41" lengthAdjust="spacingAndGlyphs">0.03546</text>
<text x="21.10" y="519.05" font-size="8.65" font-weight="400" text-anchor="start" fill="#111" stroke="#111" stroke-width="0.15" font-family='"Carlito","Liberation Sans",sans-serif'  textLength="84.69" lengthAdjust="spacingAndGlyphs">Wall Zeta Potential (mV)</text>
<text x="160.40" y="519.05" font-size="8.65" font-weight="400" text-anchor="start" fill="#111" stroke="#111" stroke-width="0.15" font-family='"Carlito","Liberation Sans",sans-serif'  textLength="23.97" lengthAdjust="spacingAndGlyphs">–25.57</text>
<text x="250.70" y="519.05" font-size="8.65" font-weight="400" text-anchor="middle" fill="#111" stroke="#111" stroke-width="0.15" font-family='"Carlito","Liberation Sans",sans-serif'  textLength="2.64" lengthAdjust="spacingAndGlyphs">-</text>
<text x="318.10" y="519.05" font-size="8.65" font-weight="400" text-anchor="middle" fill="#111" stroke="#111" stroke-width="0.15" font-family='"Carlito","Liberation Sans",sans-serif'  textLength="2.64" lengthAdjust="spacingAndGlyphs">-</text>
<text x="347.20" y="519.05" font-size="8.65" font-weight="400" text-anchor="start" fill="#111" stroke="#111" stroke-width="0.15" font-family='"Carlito","Liberation Sans",sans-serif'  textLength="23.97" lengthAdjust="spacingAndGlyphs">–25.57</text>
<text x="413.90" y="519.05" font-size="8.65" font-weight="400" text-anchor="start" fill="#111" stroke="#111" stroke-width="0.15" font-family='"Carlito","Liberation Sans",sans-serif'  textLength="23.97" lengthAdjust="spacingAndGlyphs">–25.57</text>
<text x="21.10" y="529.70" font-size="8.65" font-weight="400" text-anchor="start" fill="#111" stroke="#111" stroke-width="0.15" font-family='"Carlito","Liberation Sans",sans-serif'  textLength="69.36" lengthAdjust="spacingAndGlyphs">Zeta Deviation (mV)</text>
<text x="160.40" y="529.70" font-size="8.65" font-weight="400" text-anchor="start" fill="#111" stroke="#111" stroke-width="0.15" font-family='"Carlito","Liberation Sans",sans-serif'  textLength="19.67" lengthAdjust="spacingAndGlyphs">3.649</text>
<text x="250.70" y="529.70" font-size="8.65" font-weight="400" text-anchor="middle" fill="#111" stroke="#111" stroke-width="0.15" font-family='"Carlito","Liberation Sans",sans-serif'  textLength="2.64" lengthAdjust="spacingAndGlyphs">-</text>
<text x="318.10" y="529.70" font-size="8.65" font-weight="400" text-anchor="middle" fill="#111" stroke="#111" stroke-width="0.15" font-family='"Carlito","Liberation Sans",sans-serif'  textLength="2.64" lengthAdjust="spacingAndGlyphs">-</text>
<text x="347.20" y="529.70" font-size="8.65" font-weight="400" text-anchor="start" fill="#111" stroke="#111" stroke-width="0.15" font-family='"Carlito","Liberation Sans",sans-serif'  textLength="19.67" lengthAdjust="spacingAndGlyphs">3.649</text>
<text x="413.90" y="529.70" font-size="8.65" font-weight="400" text-anchor="start" fill="#111" stroke="#111" stroke-width="0.15" font-family='"Carlito","Liberation Sans",sans-serif'  textLength="19.67" lengthAdjust="spacingAndGlyphs">3.649</text>
<text x="232.50" y="542.40" font-size="9.8" font-weight="700" text-anchor="middle" fill="#111" stroke="#111" stroke-width="0.05" font-family='"Liberation Serif","Times New Roman",serif'  textLength="13.06" lengthAdjust="spacingAndGlyphs">(B)</text>
</svg>
</body></html>
